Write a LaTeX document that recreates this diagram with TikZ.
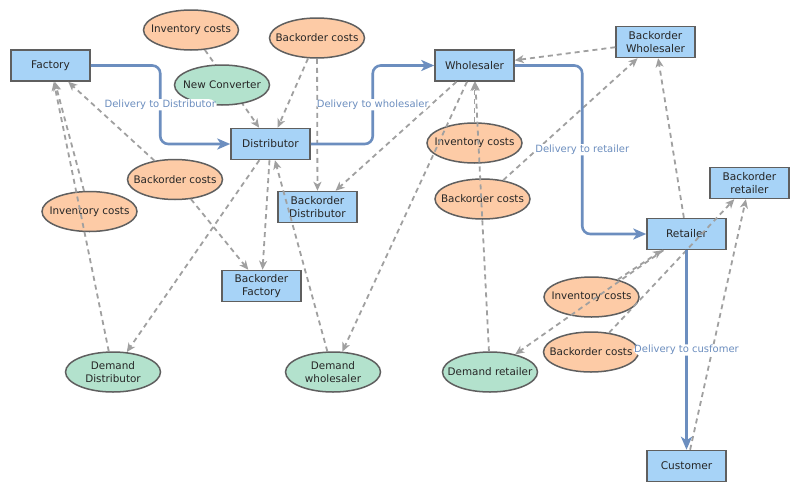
\documentclass[tikz,border=0pt]{standalone}
\usepackage{fontspec}
\setmainfont{DejaVu Sans}
\usetikzlibrary{shapes.geometric}
\usetikzlibrary{arrows.meta}
\usepackage{xcolor}

\definecolor{boxblue}{HTML}{A7D3F7}
\definecolor{costorange}{HTML}{FDCBA6}
\definecolor{demandgreen}{HTML}{B3E2CD}
\definecolor{flowblue}{HTML}{6C8EBF}
\definecolor{edgegray}{HTML}{A0A0A0}
\definecolor{rimgray}{HTML}{5F5F5F}

\begin{document}
\begin{tikzpicture}[x=1pt,y=-1pt,
  box/.style={draw=rimgray, line width=1.5pt, fill=boxblue, minimum width=79pt, minimum height=31pt, inner sep=1pt, align=center, text=black!85, font=\fontsize{10.6}{13}\selectfont},
  cost/.style={ellipse, draw=rimgray, line width=1.5pt, fill=costorange, minimum width=95pt, minimum height=40pt, inner xsep=-11pt, inner ysep=0pt, align=center, text=black!85, font=\fontsize{10.4}{13}\selectfont},
  demand/.style={cost, fill=demandgreen},
  delivery/.style={flowblue, line width=2.6pt, rounded corners=8pt, -{Stealth[length=13pt,width=11pt,inset=3.5pt]}},
  dlabel/.style={fill=white, text=flowblue, inner sep=0.8pt, font=\fontsize{10}{12}\selectfont},
  feed/.style={edgegray, line width=1.8pt, dash pattern=on 5pt off 4pt, -{Stealth[length=9pt,width=8pt,inset=2.5pt]}}
]
\fill[white] (0,0) rectangle (800,493);
\useasboundingbox (0,0) rectangle (800,493);

% supply chain
\node[box] (fact) at (50.5,65.5) {Factory};
\node[box] (dist) at (270.5,144) {Distributor};
\node[box] (whol) at (474.5,65.5) {Wholesaler};
\node[box] (ret) at (686.5,234) {Retailer};
\node[box] (cust) at (686.5,466) {Customer};

\node[box] (boFact) at (261.5,286) {Backorder\\Factory};
\node[box] (boDist) at (317.5,207) {Backorder\\Distributor};
\node[box] (boWhol) at (655.5,42) {Backorder\\Wholesaler};
\node[box] (boRet) at (749.5,183) {Backorder\\retailer};

% costs
\node[cost] (invTop) at (191,30) {Inventory costs};
\node[cost] (boTop) at (317,38) {Backorder costs};
\node[cost] (invMid) at (474.5,143) {Inventory costs};
\node[cost] (boMid) at (482.5,199) {Backorder costs};
\node[cost] (boLeft) at (175,179.5) {Backorder costs};
\node[cost] (invLeft) at (89.5,211.5) {Inventory costs};
\node[cost] (invLow) at (591.5,297) {Inventory costs};
\node[cost] (boLow) at (591,352) {Backorder costs};

% demand
\node[demand] (dDist) at (113,372) {Demand\\Distributor};
\node[demand] (dWhol) at (333,372) {Demand\\wholesaler};
\node[demand] (dRet) at (490,372) {Demand retailer};

% information flow
\draw[feed] (invTop) -- (dist);
\draw[feed] (boTop) -- (dist);
\draw[feed] (boTop) -- (boDist);
\draw[feed] (whol) -- (boDist);
\draw[feed] (boWhol) -- (whol);
\draw[feed] (invMid) -- (whol);
\draw[feed] (dRet) -- (whol);
\draw[feed] (boMid) -- (boWhol);
\draw[feed] (ret) -- (boWhol);
\draw[feed] (invLow) -- (ret);
\draw[feed] (ret) -- (dRet);
\draw[feed] (boLow) -- (boRet);
\draw[feed] (cust) -- (boRet);
\draw[feed] (dDist) -- (fact);
\draw[feed] (invLeft) -- (fact);
\draw[feed] (boLeft) -- (fact);
\draw[feed] (boLeft) -- (boFact);
\draw[feed] (dist) -- (boFact);
\draw[feed] (dist) -- (dDist);
\draw[feed] (dWhol) -- (dist);
\draw[feed] (whol) -- (dWhol);

\node[demand] (conv) at (222,85) {New Converter};

% deliveries
\draw[delivery] (fact.east) -- ++(69.5,0) |- (dist.west) node[pos=0.25,dlabel]{Delivery to Distributor};
\draw[delivery] (dist.east) -- ++(62,0) |- (whol.west) node[pos=0.25,dlabel]{Delivery to wholesaler};
\draw[delivery] (whol.east) -- ++(67.5,0) |- (ret.west) node[pos=0.25,dlabel]{Delivery to retailer};
\draw[delivery] (ret) -- (cust) node[midway,dlabel]{Delivery to cusfomer};

\end{tikzpicture}
\end{document}
